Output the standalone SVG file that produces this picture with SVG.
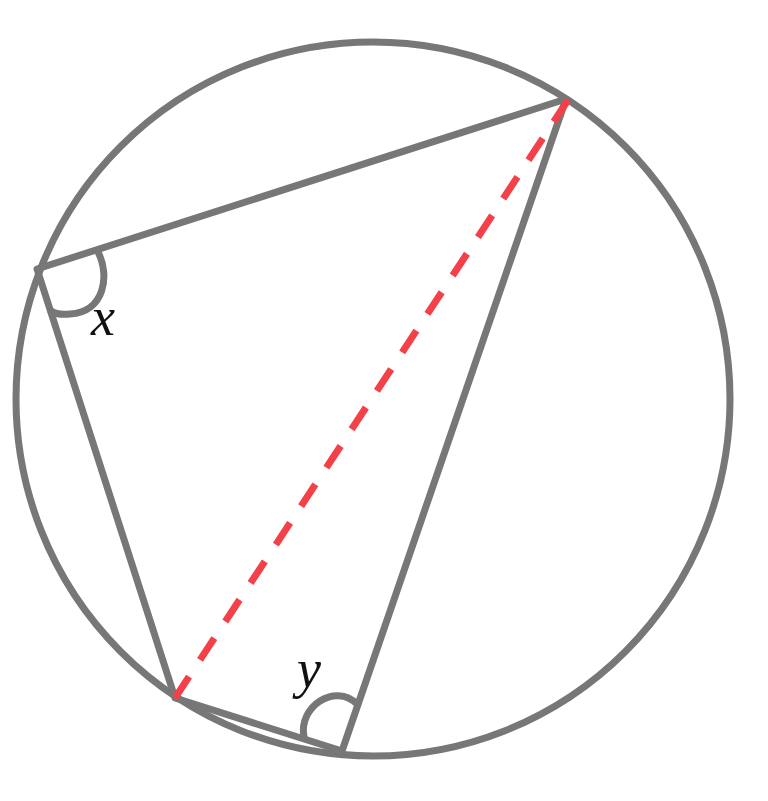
<svg xmlns="http://www.w3.org/2000/svg" width="768" height="801" viewBox="0 0 768 801">
<style>
.g{fill:none;stroke:#777;stroke-width:7;stroke-linejoin:round;stroke-linecap:round}
.r{fill:none;stroke:#f44048;stroke-width:7;stroke-dasharray:26 20}
.t{font-family:"Liberation Serif",serif;font-style:italic;font-size:54px;fill:#111}
</style>
<rect width="768" height="801" fill="#fff"/>
<g id="circle"><circle class="g" cx="373" cy="399" r="357"/></g>
<g id="connectors">
<polygon class="g" points="37,269 566,99 342,751 175,698"/>
<line class="r" x1="568" y1="100" x2="175" y2="698"/>
</g>
<g id="angle-x">
<path class="g" d="M98,252 C110,275 105,312 70,314 C60,315 54,313 51,311"/>
<text class="t" x="91" y="335">x</text>
</g>
<g id="angle-y">
<path class="g" d="M304,737 C298,707 335,682 357,704"/>
<text class="t" x="297" y="687">y</text>
</g>
</svg>
